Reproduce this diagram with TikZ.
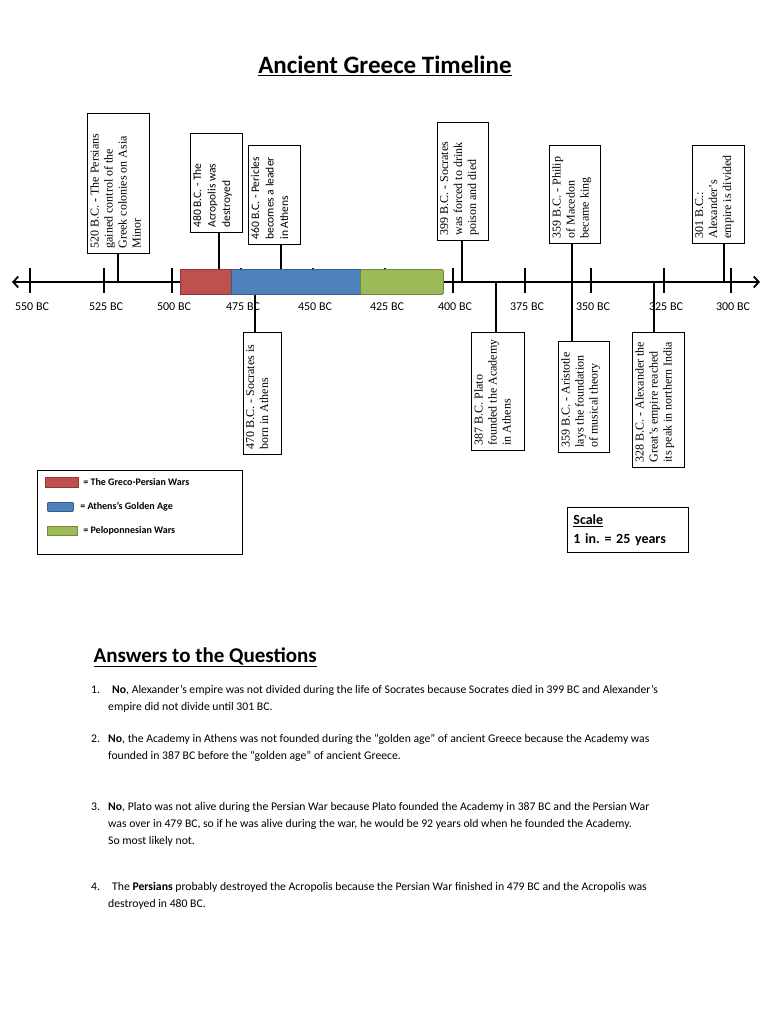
\documentclass[tikz,border=0pt]{standalone}
\usepackage{fontspec}
\setmainfont{Carlito}
\newfontfamily\serifbox{Liberation Serif}
\usetikzlibrary{
  arrows.meta,
  positioning,
  calc
}
\definecolor{gkred}{HTML}{C0504D}
\definecolor{gkreddark}{HTML}{8C3836}
\definecolor{gkblue}{HTML}{4F81BD}
\definecolor{gkbluedark}{HTML}{385D8A}
\definecolor{gkgreen}{HTML}{9BBB59}
\definecolor{gkgreendark}{HTML}{71893F}

\begin{document}
\begin{tikzpicture}[x=1pt, y=-1pt,
    evbox/.style={
      rectangle, draw=black, line width=0.8pt,
      inner sep=0pt, anchor=north west
    },
    evtext/.style={
      rotate=90, anchor=north west, align=left,
      inner xsep=5pt, inner ysep=3pt,
      font=\fontsize{12}{14}\selectfont\serifbox
    },
    evsans/.style={evtext, font=\fontsize{11.5}{14.5}\selectfont},
    stem/.style={line width=1.8pt},
    tickmark/.style={line width=1.2pt},
    ticklabel/.style={font=\fontsize{12}{14}\selectfont},
    era/.style={rectangle, line width=0.9pt, inner sep=0pt, anchor=north west},
    swatch/.style={rectangle, line width=0.8pt, inner sep=0pt, anchor=north west},
    keytext/.style={anchor=west, font=\fontsize{10}{12}\selectfont\bfseries},
    anstext/.style={anchor=base west, align=left, inner sep=0pt,
      font=\fontsize{11.7}{17}\selectfont}
  ]
  \fill[white] (0,0) rectangle (768,1024);
  \useasboundingbox (0,0) rectangle (768,1024);

  % title
  \node[font=\fontsize{25}{30}\selectfont\bfseries] (title) at (385,66) {\underline{Ancient Greece Timeline}};

  % axis and ticks
  \coordinate (axL) at (12,282);
  \coordinate (axR) at (760,282);
  \draw[line width=1.8pt, {Straight Barb[length=5pt, width=11pt]}-{Straight Barb[length=5pt, width=11pt]}] (axL) -- (axR);
  \foreach \x/\yr in {30/550, 104/525, 172/500, 241/475, 313/450, 385/425, 453/400, 525/375, 591/350, 664/325, 731/300} {
    \draw[tickmark] (\x,268) -- (\x,293);
    \node[ticklabel] (lab\yr) at (\x+2,307) {\yr\ BC};
  }

  % points on the axis
  \coordinate (t520) at (118,282);
  \coordinate (t480) at (219,282);
  \coordinate (t460) at (281,282);
  \coordinate (t470) at (255,282);
  \coordinate (t399) at (462,282);
  \coordinate (t387) at (496,282);
  \coordinate (t359) at (572,282);
  \coordinate (t328) at (654,282);
  \coordinate (t301) at (724,282);

  % events above
  \node[evbox, minimum width=62, minimum height=140] (e520) at (87,113) {};
  \node[evtext] at (e520.south west) {520 B.C. - The Persians\\gained control of the\\Greek colonies on Asia\\Minor};
  \node[evbox, minimum width=52, minimum height=99] (e480) at (190,133) {};
  \node[evsans] at (e480.south west) {480 B.C. - The\\Acropolis was\\destroyed};
  \node[evbox, minimum width=52, minimum height=99] (e460) at (248,145) {};
  \node[evsans] at (e460.south west) {460 B.C. - Pericles\\becomes a leader\\in Athens};
  \node[evbox, minimum width=51, minimum height=118] (e399) at (437,122) {};
  \node[evtext] at (e399.south west) {399 B.C. - Socrates\\was forced to drink\\poison and died};
  \node[evbox, minimum width=51, minimum height=98] (e359a) at (549,145) {};
  \node[evtext] at (e359a.south west) {359 B.C. - Philip\\of Macedon\\became king};
  \node[evbox, minimum width=52, minimum height=98] (e301) at (692,145) {};
  \node[evtext] at (e301.south west) {301 B.C.:\\Alexander’s\\empire is divided};

  % events below
  \node[evbox, minimum width=38, minimum height=122] (e470) at (243,332) {};
  \node[evtext] at (e470.south west) {470 B.C. - Socrates is\\born in Athens};
  \node[evbox, minimum width=53, minimum height=118] (e387) at (471,332) {};
  \node[evtext] at (e387.south west) {387 B.C. Plato\\founded the Academy\\in Athens};
  \node[evbox, minimum width=51, minimum height=111] (e359b) at (558,341) {};
  \node[evtext] at (e359b.south west) {359 B.C. - Aristotle\\lays the foundation\\of musical theory};
  \node[evbox, minimum width=52, minimum height=135] (e328) at (632,332) {};
  \node[evtext] at (e328.south west) {328 B.C. - Alexander the\\Great’s empire reached\\its peak in northern India};

  % stems
  \draw[stem] (e520.south -| t520) -- (t520);
  \draw[stem] (e480.south -| t480) -- (t480);
  \draw[stem] (e460.south -| t460) -- (t460);
  \draw[stem] (e399.south -| t399) -- (t399);
  \draw[stem] (e359a.south -| t359) -- (e359b.north -| t359);
  \draw[stem] (e301.south -| t301) -- (t301);
  \draw[stem] (t470) -- (e470.north -| t470);
  \draw[stem] (t387) -- (e387.north -| t387);
  \draw[stem] (t328) -- (e328.north -| t328);

  % eras
  \node[era, fill=gkred, draw=gkreddark, minimum width=51, minimum height=25] (gpwar) at (180,269) {};
  \node[era, fill=gkblue, draw=gkbluedark, minimum width=129, minimum height=25] (golden) at (231,269) {};
  \node[era, fill=gkgreen, draw=gkgreendark, rounded corners=1.5pt, minimum width=83, minimum height=25] (pelop) at (360,269) {};

  % key
  \node[rectangle, draw=black, line width=0.8pt, inner sep=0pt, anchor=north west, minimum width=205, minimum height=84] (legend) at (37,470) {};
  \node[swatch, fill=gkred, draw=gkreddark, minimum width=33, minimum height=10] (kred) at (45,477) {};
  \node[keytext] at ([xshift=1pt]kred.east) {= The Greco-Persian Wars};
  \node[swatch, fill=gkblue, draw=gkbluedark, rounded corners=1pt, minimum width=26, minimum height=9] (kblue) at (47,502) {};
  \node[keytext] at ([xshift=3pt]kblue.east) {= Athens’s Golden Age};
  \node[swatch, fill=gkgreen, draw=gkgreendark, minimum width=30, minimum height=9] (kgreen) at (47,526) {};
  \node[keytext] at ([xshift=2pt]kgreen.east) {= Peloponnesian Wars};

  % scale
  \node[rectangle, draw=black, line width=0.8pt, anchor=north west, text width=109, inner xsep=6pt, inner ysep=3pt, minimum height=45, align=left, font=\fontsize{14}{19}\selectfont\bfseries] (scalebox) at (567,507) {\underline{Scale}\\1 in.\ = 25 years};

  % answers
  \node[anchor=west, font=\fontsize{21}{25}\selectfont\bfseries] (answers) at (90,657) {\underline{Answers to the Questions}};

  \node[anstext] (n1) at (91,693) {1.};
  \node[anstext] (a1) at (108,710) {\hspace*{4pt}\textbf{No}, Alexander’s empire was not divided during the life of Socrates because Socrates died in 399 BC and Alexander’s\\empire did not divide until 301 BC.};
  \node[anstext] (n2) at (91,742) {2.};
  \node[anstext] (a2) at (108,759) {\textbf{No}, the Academy in Athens was not founded during the “golden age” of ancient Greece because the Academy was\\founded in 387 BC before the “golden age” of ancient Greece.};
  \node[anstext] (n3) at (91,810) {3.};
  \node[anstext] (a3) at (108,844) {\textbf{No}, Plato was not alive during the Persian War because Plato founded the Academy in 387 BC and the Persian War\\was over in 479 BC, so if he was alive during the war, he would be 92 years old when he founded the Academy.\\So most likely not.};
  \node[anstext] (n4) at (91,890) {4.};
  \node[anstext] (a4) at (108,907) {\hspace*{4pt}The \textbf{Persians} probably destroyed the Acropolis because the Persian War finished in 479 BC and the Acropolis was\\destroyed in 480 BC.};
\end{tikzpicture}
\end{document}
